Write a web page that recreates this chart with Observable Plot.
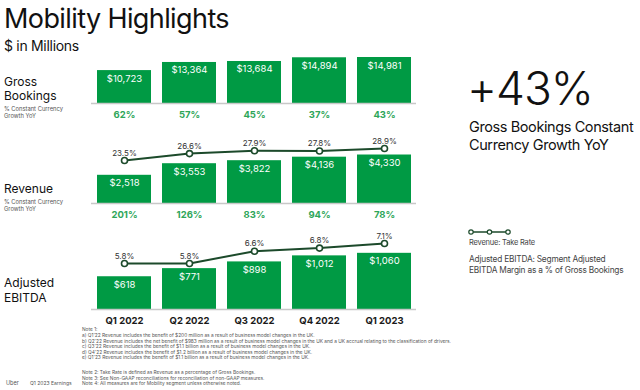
<!DOCTYPE html>
<html><head><meta charset="utf-8">
<script src="https://cdn.jsdelivr.net/npm/d3@7"></script>
<script src="https://cdn.jsdelivr.net/npm/@observablehq/plot@0.6"></script>
<style>
body{margin:0;background:#fff;}
#root{position:relative;width:640px;height:390px;overflow:hidden;font-family:Inter, sans-serif;background:#fff;}
#root > div{position:absolute;left:0;}
svg{display:block;}
</style></head><body><div id="root"></div>
<script>
const quarters = ["Q1 2022","Q2 2022","Q3 2022","Q4 2022","Q1 2023"];
const grossBookings = [10723,13364,13684,14894,14981];
const gbGrowth = ["62%","57%","45%","37%","43%"];
const revenue = [2518,3553,3822,4136,4330];
const revGrowth = ["201%","126%","83%","94%","78%"];
const takeRate = [23.5,26.6,27.9,27.8,28.9];
const ebitda = [618,771,898,1012,1060];
const ebitdaMargin = [5.8,5.8,6.6,6.8,7.1];
const notes = [
  "Note 1:",
  "a) Q1'22 Revenue includes the benefit of $200 million as a result of business model changes in the UK.",
  "b) Q2'22 Revenue includes the net benefit of $983 million as a result of business model changes in the UK and a UK accrual relating to the classification of drivers.",
  "c) Q3'22 Revenue includes the benefit of $1.1 billion as a result of business model changes in the UK.",
  "d) Q4'22 Revenue includes the benefit of $1.2 billion as a result of business model changes in the UK.",
  "e) Q1'23 Revenue includes the benefit of $1.1 billion as a result of business model changes in the UK.",
  "Note 2: Take Rate is defined as Revenue as a percentage of Gross Bookings.",
  "Note 3: See Non-GAAP reconciliations for reconciliation of non-GAAP measures.",
  "Note 4: All measures are for Mobility segment unless otherwise noted."
];

const GREEN = "#009a44", LIGHTGREEN = "#2ea659", DARK = "#1c4a2b", FONT = "Inter, sans-serif";
const root = document.getElementById("root");
const common = {width:640, marginLeft:91, marginRight:224, marginTop:0, marginBottom:0,
  style:{background:"transparent", fontFamily:FONT, overflow:"visible"}};
const xScale = {domain:quarters, paddingInner:0.17, paddingOuter:0.085, axis:null};

function place(el, top){ const d=document.createElement("div"); d.style.top=top+"px"; d.appendChild(el); root.appendChild(d); }

function barPanel(top, height, base, vals, k, growth, showQ){
  const data = quarters.map((q,i)=>({q, v:vals[i], g: growth ? growth[i] : ""}));
  const max = d3.max(vals);
  const marks = [
    Plot.barY(data,{x:"q", y:"v", fill:GREEN}),
    Plot.ruleY([0],{stroke:"#c8c8c8", strokeWidth:1.5}),
    Plot.text(data,{x:"q", y:"v", text:d=>"$"+d3.format(",")(d.v), fill:"white", fontSize:9.5, lineAnchor:"bottom", dy:11})
  ];
  if (growth) marks.push(Plot.text(data,{x:"q", y:()=>0, text:"g", fill:LIGHTGREEN, fontWeight:700, fontSize:9.5, lineAnchor:"bottom", dy:14}));
  if (showQ) marks.push(Plot.text(data,{x:"q", y:()=>0, text:"q", fill:"#1a1a1a", fontWeight:700, fontSize:9.5, lineAnchor:"bottom", dy:14}));
  place(Plot.plot({...common, height, x:xScale, y:{domain:[0,max], range:[base, base-max*k], axis:null}, marks}), top);
}

function linePanel(top, height, vals, domain, range){
  const data = quarters.map((q,i)=>({q, r:vals[i]}));
  place(Plot.plot({...common, height, x:xScale, y:{domain, range, axis:null}, marks:[
    Plot.line(data,{x:"q", y:"r", stroke:DARK, strokeWidth:2}),
    Plot.dot(data,{x:"q", y:"r", r:3, fill:"white", stroke:DARK, strokeWidth:1.6}),
    Plot.text(data,{x:"q", y:"r", text:d=>d.r.toFixed(1)+"%", fill:"#333", fontSize:8, lineAnchor:"bottom", dy:-5})
  ]}), top);
}

barPanel(50, 72, 53, grossBookings, 0.00307, gbGrowth, false);
barPanel(130, 95, 73, revenue, 0.0112, revGrowth, false);
linePanel(130, 95, takeRate, [23.5, 28.9], [30, 18]);
barPanel(230, 100, 79, ebitda, 0.053, null, true);
linePanel(230, 100, ebitdaMargin, [5.8, 7.1], [33, 13]);

// static text layer
const svg = d3.create("svg").attr("width",640).attr("height",390).style("font-family",FONT);
function txt(x,y,s,size,opts={}){
  svg.append("text").attr("x",x).attr("y",y).attr("font-size",size)
    .attr("fill",opts.fill||"#111").attr("font-weight",opts.weight||400)
    .attr("letter-spacing",opts.ls||0).text(s);
}
txt(4,28,"Mobility Highlights",27,{ls:-0.6});
txt(4,51,"$ in Millions",14,{ls:-0.3});
txt(4,85.5,"Gross",12); txt(4,100,"Bookings",12);
txt(4,111,"% Constant Currency",5.8,{fill:"#555"}); txt(4,118,"Growth YoY",5.8,{fill:"#555"});
txt(4,193,"Revenue",12);
txt(4,204,"% Constant Currency",5.8,{fill:"#555"}); txt(4,211,"Growth YoY",5.8,{fill:"#555"});
txt(4,287,"Adjusted",12); txt(4,301.5,"EBITDA",12);
txt(467,105,"+43%",46,{weight:300,ls:-1});
txt(469,132,"Gross Bookings Constant",14.5,{ls:-0.4});
txt(469,150,"Currency Growth YoY",14.5,{ls:-0.4});
// legend
svg.append("line").attr("x1",471).attr("x2",508).attr("y1",232).attr("y2",232).attr("stroke",DARK).attr("stroke-width",1.6);
[471,489.5,508].forEach(cx=>svg.append("circle").attr("cx",cx).attr("cy",232).attr("r",2.2).attr("fill","white").attr("stroke",DARK).attr("stroke-width",1.2));
txt(469,245,"Revenue: Take Rate",7.5,{fill:"#444",ls:-0.2});
txt(469,262,"Adjusted EBITDA: Segment Adjusted",8.3,{fill:"#444",ls:-0.2});
txt(469,273,"EBITDA Margin as a % of Gross Bookings",8.3,{fill:"#444",ls:-0.2});
// notes
const ny = [331,337,342.5,348,353.5,359,374,379.5,385];
notes.forEach((s,i)=>txt(82,ny[i],s,4.8,{fill:"#555"}));
txt(6,385,"Uber",5.5,{fill:"#555"});
txt(30,385,"Q1 2023 Earnings",5,{fill:"#555"});

const bg = document.createElement("div"); bg.style.top="0px"; bg.appendChild(svg.node());
root.insertBefore(bg, root.firstChild);
</script>
</body></html>
